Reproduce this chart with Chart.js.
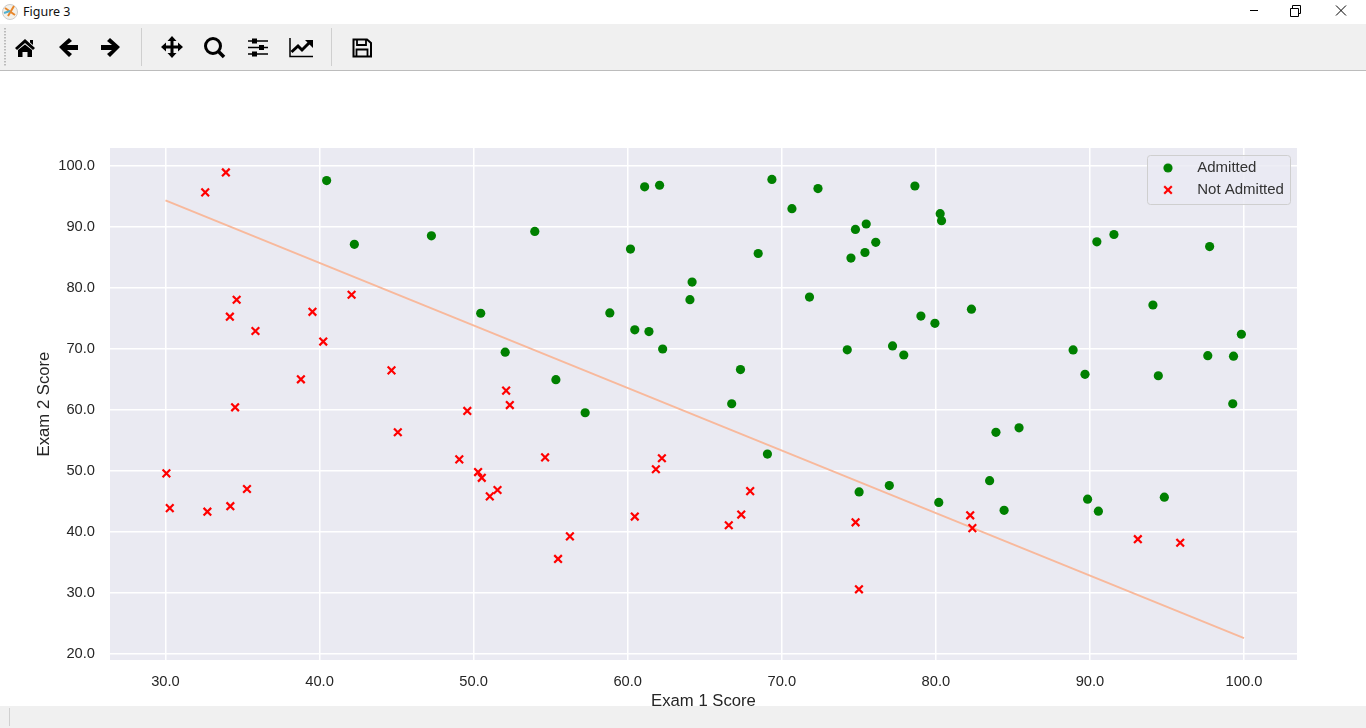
<!DOCTYPE html>
<html><head><meta charset="utf-8"><title>Figure 3</title>
<script src="https://cdn.jsdelivr.net/npm/chart.js@4"></script>
<style>
html,body{margin:0;padding:0;background:#fff;width:1366px;height:728px;overflow:hidden;font-family:"Liberation Sans",Arial,sans-serif}
#chrome{position:absolute;left:0;top:0}
#ttl{position:absolute;left:23px;top:4px;font:12.5px/16px "Noto Sans",sans-serif;color:#111}
#status{position:absolute;left:0;top:706px;width:1366px;height:22px;background:#f0f0f0}
#status i{position:absolute;left:9px;top:2px;width:1px;height:18px;background:#d0d0d0}
#c{position:absolute;left:0;top:71px}
</style></head><body>
<svg id="chrome" width="1366" height="71" viewBox="0 0 1366 71">
<rect x="0" y="24" width="1366" height="46" fill="#f0f0f0"/>
<rect x="0" y="70" width="1366" height="1" fill="#bcbcbc"/>
<circle cx="10" cy="12" r="7.5" fill="#f4f1ea" stroke="#ccc"/>
<path d="M5 8 L15 15 M14 6 L8 16" stroke="#e8862a" stroke-width="2"/><path d="M4 13 L10 11" stroke="#4fb0d0" stroke-width="2"/>
<path d="M1250 10.5H1258" stroke="#000"/>
<path d="M1290.5 8.5H1298.5V16.5H1290.5ZM1292.5 8V5.5H1300.5V13.5H1298.5" fill="none" stroke="#000"/>
<path d="M1336 5.5L1346 15.5M1346 5.5L1336 15.5" stroke="#000" fill="none"/>
<path d="M5 28V66" stroke="#bbb" stroke-width="2" stroke-dasharray="1.5 1.5"/>
<path d="M141.5 28V66M331.5 28V66" stroke="#cfcfcf"/>
<path d="M15 48L25 39L35 48L33 50L25 43L17 50Z M18 50L25 44.5L32 50V57H27.5V52H22.5V57H18Z M30 40H33V45L30 42.5Z" fill="#000"/>
<path d="M59 47L69 38L72 41L67 45H78V50H67L72 54L69 57Z" fill="#000"/>
<path d="M120 47L110 38L107 41L112 45H101V50H112L107 54L110 57Z" fill="#000"/>
<path d="M172 36L176.500 41H173.500V45.500H178V42.500L183 47L178 51.500V48.500H173.500V53H176.500L172 58L167.500 53H170.500V48.500H166V51.500L161 47L166 42.500V45.500H170.500V41H167.500Z" fill="#000"/>
<circle cx="213" cy="46" r="7.500" fill="none" stroke="#000" stroke-width="3"/><path d="M218.500 51.500L224 57" stroke="#000" stroke-width="3.500"/>
<path d="M248 41H268M248 47.500H268M248 54H268" stroke="#000" stroke-width="1.500"/><rect x="252" y="38.500" width="5" height="5" fill="#000"/><rect x="259" y="45" width="5" height="5" fill="#000"/><rect x="252" y="51.500" width="5" height="5" fill="#000"/>
<path d="M290 38V56.500H313" fill="none" stroke="#000" stroke-width="1.500"/><path d="M291.500 52L298 46L302 50L310 42" fill="none" stroke="#000" stroke-width="3"/><path d="M305 40H313V48Z" fill="#000"/>
<path d="M353.500 39.500H367L371 43V56.500H353.500Z" fill="none" stroke="#000" stroke-width="2"/><path d="M357 40V45H366V40M356.500 56V49.500H367.500V56" fill="none" stroke="#000" stroke-width="1.800"/>
</svg>
<div id="ttl">Figure 3</div>
<canvas id="c" width="1366" height="635"></canvas>
<div id="status"><i></i></div>
<script>
const seriesAdmitted = "Admitted";
const seriesNotAdmitted = "Not Admitted";
const xAxisLabel = "Exam 1 Score";
const yAxisLabel = "Exam 2 Score";
const xTickValues = [30,40,50,60,70,80,90,100];
const yTickValues = [20,30,40,50,60,70,80,90,100];
const admittedX = [60.18,79.03,61.10,75.02,76.10,84.43,82.31,69.36,53.97,69.07,70.66,76.98,89.68,77.92,62.27,80.19,61.38,85.40,52.05,64.18,83.90,94.44,77.19,97.77,62.07,91.56,79.94,99.27,90.55,97.65,74.25,71.80,75.40,40.46,80.28,66.75,64.04,72.35,60.46,58.84,99.83,47.26,50.46,88.91,94.83,67.32,57.24,80.37,68.47,75.48,78.64,94.09,90.45,74.49,89.85,83.49,42.26,99.32,55.34,74.78];
const admittedY = [86.31,75.34,96.51,46.55,87.42,43.53,76.48,97.72,89.21,52.74,92.93,47.58,65.80,68.97,69.95,44.82,72.81,57.05,69.43,80.91,56.31,65.57,70.46,86.73,96.77,88.70,74.16,60.99,43.39,68.86,69.82,78.45,85.76,97.54,92.12,60.99,78.03,96.23,73.09,75.86,72.37,88.48,75.81,69.80,45.69,66.59,59.51,90.96,85.59,90.42,96.65,77.16,87.51,84.85,45.36,48.38,87.10,68.78,64.93,89.53];
const rejectedX = [34.62,30.28,35.84,45.08,95.86,75.01,39.54,67.95,67.37,50.53,34.21,93.11,61.83,38.79,52.11,40.24,54.64,33.92,74.79,34.18,51.55,82.37,51.05,62.22,34.52,50.29,49.59,32.58,35.29,56.25,30.06,44.67,66.56,49.07,32.72,60.46,82.23,42.08,52.35,55.48];
const rejectedY = [78.02,43.89,72.90,56.32,38.22,30.60,76.04,46.68,42.84,48.86,44.21,38.80,50.26,64.99,63.13,71.17,52.21,98.87,41.57,75.24,46.86,40.62,45.82,52.06,60.40,49.80,59.81,95.60,47.02,39.26,49.59,66.45,41.09,51.88,43.31,42.51,42.72,78.84,60.77,35.57];
const boundaryX = [30,100];
const boundaryY = [94.3,22.6];
const xLimits = [26.4,103.44];
const yLimits = [19.02,102.87];

const pts = (xs,ys)=>xs.map((x,i)=>({x,y:ys[i]}));
const ink = "#262626";
const fam = "'Liberation Sans',Arial,sans-serif";

function marker(kind){
  const m=document.createElement("canvas"); m.width=14; m.height=14;
  const g=m.getContext("2d");
  if(kind==="circle"){g.fillStyle="#008000";g.beginPath();g.arc(7,7,4.6,0,Math.PI*2);g.fill();}
  else{g.strokeStyle="#ff0000";g.lineWidth=2.2;g.beginPath();g.moveTo(3.2,3.2);g.lineTo(10.8,10.8);g.moveTo(10.8,3.2);g.lineTo(3.2,10.8);g.stroke();}
  return m;
}
const legendMarkers=[marker("circle"),marker("cross")];

const legendPlacement = {
  id:"legendPlacement",
  afterLayout(chart){
    const l=chart.legend;
    l.left=1139.25; l.right=1285; l.top=82.4; l.bottom=140; l.width=l.right-l.left; l.height=l.bottom-l.top;
    if(!l._framed){
      l._framed=true;
      const draw=l.draw;
      l.draw=function(){
        const g=chart.ctx;
        g.save();
        g.beginPath(); g.roundRect(1147.5,84.5,143,49,3);
        g.fillStyle="rgba(234,234,242,0.8)"; g.fill();
        g.strokeStyle="#cfcfcf"; g.lineWidth=1; g.stroke();
        g.restore();
        draw.call(this);
      };
    }
  }
};
new Chart(document.getElementById("c"),{
  data:{datasets:[
    {type:"scatter",label:seriesAdmitted,data:pts(admittedX,admittedY),backgroundColor:"#008000",borderColor:"#008000",pointStyle:"circle",pointRadius:4.6,borderWidth:0,order:2},
    {type:"scatter",label:seriesNotAdmitted,data:pts(rejectedX,rejectedY),backgroundColor:"#ff0000",borderColor:"#ff0000",pointStyle:"crossRot",pointRadius:5.4,pointBorderWidth:2.2,order:1},
    {type:"line",label:"Decision boundary",data:pts(boundaryX,boundaryY),borderColor:"#f8b99c",borderWidth:2,pointRadius:0,fill:false,order:3}
  ]},
  options:{
    responsive:false,animation:false,devicePixelRatio:1,
    layout:{padding:{left:0,top:77,right:69,bottom:0}},
    plugins:{
      tooltip:{enabled:false},
      title:{display:false},
      legend:{display:true,position:"chartArea",align:"start",
        labels:{usePointStyle:true,pointStyleWidth:43.5,boxWidth:9,boxHeight:9,padding:7,color:"#333",
          font:{family:fam,size:15},
          filter:i=>i.datasetIndex<2,
          sort:(a,b)=>a.datasetIndex-b.datasetIndex,
          generateLabels(chart){
            return Chart.defaults.plugins.legend.labels.generateLabels(chart).map(i=>{
              if(i.datasetIndex<2) i.pointStyle=legendMarkers[i.datasetIndex];
              return i;
            });
          }}
      }
    },
    scales:{
      x:{type:"linear",min:xLimits[0],max:xLimits[1],
        afterFit(s){s.height=46},
        afterBuildTicks(s){s.ticks=xTickValues.map(v=>({value:v}))},
        grid:{color:"#fff",lineWidth:1.5,drawTicks:false},border:{display:false},
        ticks:{padding:13,maxRotation:0,color:ink,font:{family:fam,size:14.7},callback:v=>Number(v).toFixed(1)},
        title:{display:true,text:xAxisLabel,color:ink,padding:{top:0,bottom:-5},font:{family:fam,size:16.7}}},
      y:{type:"linear",min:yLimits[0],max:yLimits[1],
        afterFit(s){s.width=110},
        afterBuildTicks(s){s.ticks=yTickValues.map(v=>({value:v}))},
        grid:{color:"#fff",lineWidth:1.5,drawTicks:false},border:{display:false},
        ticks:{padding:15,color:ink,font:{family:fam,size:14.7},callback:v=>Number(v).toFixed(1)},
        title:{display:true,text:yAxisLabel,color:ink,padding:{top:34,bottom:0},font:{family:fam,size:16.7}}}
    }
  },
  plugins:[{id:"plotBg",beforeDraw(c){const a=c.chartArea,g=c.ctx;g.save();g.fillStyle="#eaeaf2";g.fillRect(a.left,a.top,a.right-a.left,a.bottom-a.top);g.restore();}},legendPlacement]
});
</script>
</body></html>
